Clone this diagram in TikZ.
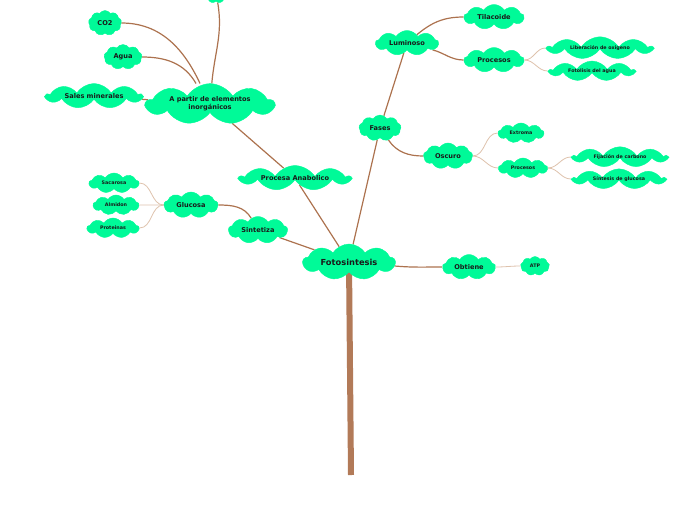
\documentclass[tikz,border=0pt]{standalone}
\usepackage{fontspec}
\setmainfont{DejaVu Sans}
\usepackage{xcolor}
\usepackage{tikz}
\usetikzlibrary{shapes.symbols, backgrounds}
\definecolor{cloudgreen}{RGB}{0,250,152}
\definecolor{branch}{RGB}{172,114,78}
\definecolor{twig}{RGB}{222,194,172}
\definecolor{trunk}{RGB}{178,122,88}
\tikzstyle{bubble} = [cloud, cloud puffs=9, cloud puff arc=115, cloud ignores aspect,
   fill=cloudgreen, draw=cloudgreen, inner sep=0pt, align=center, text=black!90]
\tikzstyle{rootBubble} = [bubble, font=\bfseries\fontsize{8.3}{10}\selectfont]
\tikzstyle{midBubble} = [bubble, font=\bfseries\fontsize{6.6}{8}\selectfont]
\tikzstyle{leafBubble} = [bubble, font=\bfseries\fontsize{4.8}{6}\selectfont]
\tikzstyle{branchLine} = [branch, line width=1.2pt]
\tikzstyle{twigLine} = [twig, line width=0.8pt]

\begin{document}
\begin{tikzpicture}[x=1pt,y=-1pt]
  \useasboundingbox (0,0) rectangle (696,520);

  \node[rootBubble,minimum width=92pt,minimum height=36pt] at (349,262)(root){Fotosintesis};
  \coordinate (trunkEnd) at (351,475);

  \node[midBubble,minimum width=110pt,minimum height=24pt] at (295,178)(anab){Procesa Anabolico};
  \node[midBubble,minimum width=128pt,minimum height=40pt] at (210,104)(inorg){A partir de elementos\\inorgánicos};
  \node[midBubble,minimum width=96pt,minimum height=25pt] at (94,96)(sales){Sales minerales};
  \node[midBubble,minimum width=38pt,minimum height=25pt] at (123,57)(agua){Agua};
  \node[midBubble,minimum width=33pt,minimum height=25pt] at (105,23)(coDos){CO2};
  \node[midBubble,minimum width=26pt,minimum height=20pt] at (216,-7)(hidden){};

  \node[midBubble,minimum width=42pt,minimum height=26pt] at (380,128)(fases){Fases};
  \node[midBubble,minimum width=63pt,minimum height=25pt] at (407,43)(lum){Luminoso};
  \node[midBubble,minimum width=60pt,minimum height=25pt] at (494,17)(tila){Tilacoide};
  \node[midBubble,minimum width=60pt,minimum height=25pt] at (494,60)(procL){Procesos};
  \node[leafBubble,minimum width=104pt,minimum height=20pt] at (600,48)(liber){Liberación de oxigeno};
  \node[leafBubble,minimum width=85pt,minimum height=20pt] at (592,71)(fotol){Fotolisis del agua};

  \node[midBubble,minimum width=49pt,minimum height=26pt] at (448,156)(osc){Oscuro};
  \node[leafBubble,minimum width=46pt,minimum height=20pt] at (521,133)(extr){Extroma};
  \node[leafBubble,minimum width=49pt,minimum height=20pt] at (523,168)(procO){Procesos};
  \node[leafBubble,minimum width=94pt,minimum height=20pt] at (620,157)(fija){Fijación de carbono};
  \node[leafBubble,minimum width=92pt,minimum height=19pt] at (619,179)(sint){Síntesis de glucosa};

  \node[midBubble,minimum width=53pt,minimum height=25pt] at (469,267)(obt){Obtiene};
  \node[leafBubble,minimum width=29pt,minimum height=19pt] at (535,266)(atp){ATP};

  \node[midBubble,minimum width=59pt,minimum height=27pt] at (258,230)(sintz){Sintetiza};
  \node[midBubble,minimum width=54pt,minimum height=26pt] at (191,205)(gluc){Glucosa};
  \node[leafBubble,minimum width=50pt,minimum height=20pt] at (114,183)(saca){Sacarosa};
  \node[leafBubble,minimum width=46pt,minimum height=20pt] at (116,205)(almi){Almidon};
  \node[leafBubble,minimum width=52pt,minimum height=20pt] at (113,228)(prot){Proteinas};

  \begin{scope}[on background layer]
  \draw[trunk,line width=6pt] (root) -- (trunkEnd);

  \draw[branchLine] (root) -- (anab);
  \draw[branchLine] (anab) -- (inorg);
  \draw[branchLine] (inorg) -- (sales);
  \draw[branchLine] (inorg.north) ++(-14,0) to[out=120,in=0] (agua.east);
  \draw[branchLine] (inorg.north) ++(-10,0) to[out=115,in=0] (coDos.east);
  \draw[branchLine] (inorg) to[out=85,in=-80] (hidden);

  \draw[branchLine] (root) -- (fases);
  \draw[branchLine] (fases) -- (lum);
  \draw[branchLine] (lum) to[out=40,in=180] (tila.west);
  \draw[branchLine] (lum) to[out=-15,in=180] (procL.west);
  \draw[twigLine] (procL.east) to[out=0,in=180] (liber.west);
  \draw[twigLine] (procL.east) to[out=0,in=180] (fotol.west);

  \draw[branchLine] (fases) to[out=-55,in=180] (osc.west);
  \draw[twigLine] (osc.east) to[out=0,in=180] (extr.west);
  \draw[twigLine] (osc.east) to[out=0,in=180] (procO.west);
  \draw[twigLine] (procO.east) to[out=0,in=180] (fija.west);
  \draw[twigLine] (procO.east) to[out=0,in=180] (sint.west);

  \draw[branchLine] (root) to[out=-5,in=180] (obt.west);
  \draw[twigLine] (obt.east) to[out=0,in=180] (atp.west);

  \draw[branchLine] (root) -- (sintz);
  \draw[branchLine] (sintz) to[out=120,in=0] (gluc.east);
  \draw[twigLine] (gluc.west) to[out=180,in=0] (saca.east);
  \draw[twigLine] (gluc.west) to[out=180,in=0] (almi.east);
  \draw[twigLine] (gluc.west) to[out=180,in=0] (prot.east);
  \end{scope}
\end{tikzpicture}
\end{document}
